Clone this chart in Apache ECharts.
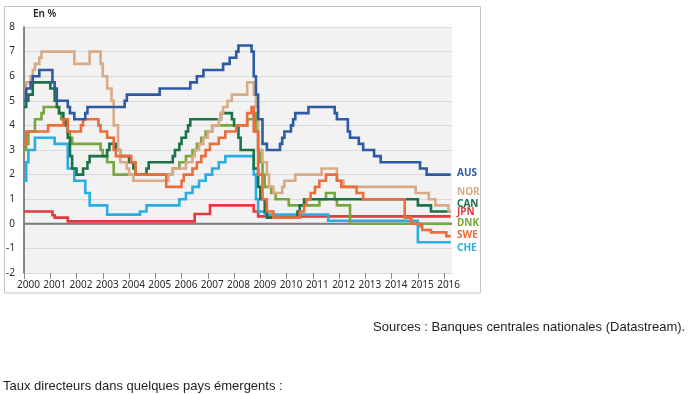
<!DOCTYPE html>
<html><head><meta charset="utf-8">
<script src="https://cdn.jsdelivr.net/npm/echarts@6/dist/echarts.min.js"></script>
<style>html,body{margin:0;padding:0;background:#fff;}#c{width:692px;height:394px;}</style>
</head><body><div id="c"></div>
<script>
// ---- data (change points: [month, rate in %]) ----
const yearTicks = [2000,2001,2002,2003,2004,2005,2006,2007,2008,2009,2010,2011,2012,2013,2014,2015,2016];
const yTicks = [-2,-1,0,1,2,3,4,5,6,7,8];
const seriesNames = ['AUS','NOR','CAN','JPN','DNK','SWE','CHE'];
const labelValues = [2.07,1.3,0.78,0.48,0.03,-0.47,-0.98];

const AUS = [['2000-01',5.0],['2000-02',5.5],['2000-04',5.75],['2000-05',6.0],['2000-08',6.25],['2001-02',5.75],['2001-03',5.5],['2001-04',5.0],['2001-09',4.75],['2001-10',4.5],['2001-12',4.25],['2002-05',4.5],['2002-06',4.75],['2003-11',5.0],['2003-12',5.25],['2005-03',5.5],['2006-05',5.75],['2006-08',6.0],['2006-11',6.25],['2007-08',6.5],['2007-11',6.75],['2008-02',7.0],['2008-03',7.25],['2008-09',7.0],['2008-10',6.0],['2008-11',5.25],['2008-12',4.25],['2009-02',3.25],['2009-04',3.0],['2009-10',3.25],['2009-11',3.5],['2009-12',3.75],['2010-03',4.0],['2010-04',4.25],['2010-05',4.5],['2010-11',4.75],['2011-11',4.5],['2011-12',4.25],['2012-05',3.75],['2012-06',3.5],['2012-10',3.25],['2012-12',3.0],['2013-05',2.75],['2013-08',2.5],['2015-02',2.25],['2015-05',2.0],['2016-04',2.0]];

const NOR = [['2000-01',5.5],['2000-02',5.75],['2000-04',6.0],['2000-05',6.25],['2000-06',6.5],['2000-08',6.75],['2000-09',7.0],['2001-12',6.5],['2002-07',7.0],['2002-12',6.5],['2003-01',6.0],['2003-03',5.5],['2003-05',5.0],['2003-06',4.0],['2003-08',3.0],['2003-09',2.5],['2003-12',2.25],['2004-01',2.0],['2004-03',1.75],['2005-07',2.0],['2005-09',2.25],['2006-03',2.5],['2006-06',2.75],['2006-07',3.0],['2006-09',3.25],['2006-11',3.5],['2007-01',3.75],['2007-03',4.0],['2007-06',4.25],['2007-07',4.5],['2007-08',4.75],['2007-10',5.0],['2007-12',5.25],['2008-07',5.75],['2008-10',5.25],['2008-11',4.75],['2008-12',3.0],['2009-02',2.5],['2009-04',2.0],['2009-05',1.5],['2009-07',1.25],['2009-11',1.5],['2009-12',1.75],['2010-05',2.0],['2011-05',2.25],['2011-12',1.75],['2012-03',1.5],['2014-12',1.25],['2015-06',1.0],['2015-09',0.75],['2016-03',0.5],['2016-04',0.5]];

const CAN = [['2000-01',4.75],['2000-02',5.0],['2000-03',5.25],['2000-05',5.75],['2001-01',5.5],['2001-03',5.0],['2001-04',4.75],['2001-05',4.5],['2001-07',4.25],['2001-08',4.0],['2001-09',3.5],['2001-10',2.75],['2001-11',2.25],['2002-01',2.0],['2002-04',2.25],['2002-06',2.5],['2002-07',2.75],['2003-03',3.0],['2003-04',3.25],['2003-07',3.0],['2003-09',2.75],['2004-01',2.5],['2004-03',2.25],['2004-04',2.0],['2004-09',2.25],['2004-10',2.5],['2005-09',2.75],['2005-10',3.0],['2005-12',3.25],['2006-01',3.5],['2006-03',3.75],['2006-04',4.0],['2006-05',4.25],['2007-07',4.5],['2007-12',4.25],['2008-01',4.0],['2008-03',3.5],['2008-04',3.0],['2008-10',2.25],['2008-12',1.5],['2009-01',1.0],['2009-03',0.5],['2009-04',0.25],['2010-06',0.5],['2010-07',0.75],['2010-09',1.0],['2015-01',0.75],['2015-07',0.5],['2016-04',0.5]];

const JPN = [['2000-01',0.5],['2001-02',0.35],['2001-03',0.25],['2001-09',0.1],['2006-07',0.4],['2007-02',0.75],['2008-10',0.5],['2008-12',0.3],['2016-04',0.3]];

const DNK = [['2000-01',3.0],['2000-02',3.25],['2000-03',3.75],['2000-06',4.25],['2000-09',4.5],['2000-10',4.75],['2001-05',4.5],['2001-06',4.25],['2001-09',3.75],['2001-10',3.5],['2001-11',3.25],['2002-12',3.0],['2003-01',2.75],['2003-03',2.5],['2003-06',2.0],['2005-09',2.25],['2005-12',2.5],['2006-03',2.75],['2006-06',3.0],['2006-08',3.25],['2006-10',3.5],['2006-12',3.75],['2007-03',4.0],['2008-07',4.25],['2008-10',4.5],['2008-11',3.75],['2008-12',3.0],['2009-01',2.5],['2009-02',2.0],['2009-03',1.5],['2009-06',1.25],['2009-08',1.0],['2010-02',0.75],['2011-04',1.0],['2011-07',1.25],['2011-11',1.0],['2011-12',0.75],['2012-06',0.0],['2016-04',0.0]];

const SWE = [['2000-01',3.25],['2000-02',3.75],['2000-12',4.0],['2001-07',4.25],['2001-09',3.75],['2002-03',4.0],['2002-04',4.25],['2002-11',4.0],['2002-12',3.75],['2003-03',3.5],['2003-06',3.0],['2003-07',2.75],['2004-02',2.5],['2004-04',2.0],['2005-06',1.5],['2006-01',1.75],['2006-02',2.0],['2006-06',2.25],['2006-08',2.5],['2006-10',2.75],['2006-12',3.0],['2007-02',3.25],['2007-06',3.5],['2007-09',3.75],['2008-02',4.0],['2008-07',4.5],['2008-09',4.75],['2008-10',3.75],['2008-12',2.0],['2009-02',1.0],['2009-04',0.5],['2009-07',0.25],['2010-07',0.5],['2010-09',0.75],['2010-10',1.0],['2010-12',1.25],['2011-02',1.5],['2011-04',1.75],['2011-07',2.0],['2011-12',1.75],['2012-02',1.5],['2012-09',1.25],['2012-12',1.0],['2014-07',0.25],['2014-10',0.0],['2015-02',-0.1],['2015-03',-0.25],['2015-07',-0.35],['2016-02',-0.5],['2016-04',-0.5]];

const CHE = [['2000-01',1.75],['2000-02',2.5],['2000-03',3.0],['2000-06',3.5],['2001-03',3.25],['2001-09',2.25],['2001-12',1.75],['2002-05',1.25],['2002-07',0.75],['2003-03',0.375],['2004-06',0.5],['2004-09',0.75],['2005-12',1.0],['2006-03',1.25],['2006-06',1.5],['2006-09',1.75],['2006-12',2.0],['2007-03',2.25],['2007-06',2.5],['2007-09',2.75],['2008-10',2.0],['2008-11',1.0],['2008-12',0.5],['2009-03',0.375],['2011-08',0.125],['2015-01',-0.75],['2016-04',-0.75]];

const xMin = 2000, xMax = 2016.3;
const zeroLine = [[xMin,0],[xMax,0]];

// ---- build ----
function ym(s){const p=s.split('-').map(Number);return p[0]+(p[1]-1)/12;}
function conv(arr){return arr.map(d=>[ym(d[0]),d[1]]);}
const dataMap = {AUS,NOR,CAN,JPN,DNK,SWE,CHE};
const colors = {AUS:'#2d5ba3',NOR:'#d8aa85',CAN:'#1c7148',JPN:'#e2393f',DNK:'#78a63e',SWE:'#ec6d3c',CHE:'#29ade2'};
const drawOrder = ['JPN','CHE','DNK','CAN','NOR','SWE','AUS'];

const chart = echarts.init(document.getElementById('c'), null, {renderer:'canvas'});
const series = [{
  type:'line', data: zeroLine, symbol:'none', silent:true, z:1,
  lineStyle:{color:'#7d7d7d', width:2}
}];
drawOrder.forEach(n=>{
  series.push({name:n,type:'line',step:'end',data:conv(dataMap[n]),symbol:'none',silent:true,z:2,
    lineStyle:{color:colors[n],width:2.6,join:'miter'}});
});

chart.setOption({
  animation:false,
  grid:{left:24,top:27,width:428,height:246,show:true,backgroundColor:'#f2f2f2',borderWidth:0,containLabel:false},
  xAxis:{type:'value',min:xMin,max:xMax,
    axisLine:{show:false,onZero:false},
    axisTick:{show:true,length:6,lineStyle:{color:'#8a8a8a',width:1},customValues:yearTicks},
    axisLabel:{customValues:yearTicks,formatter:v=>String(v),color:'#2a2a2a',fontSize:10,fontFamily:'Noto Sans',margin:7,padding:[0,0,0,9]},
    splitLine:{show:false}},
  yAxis:{type:'value',min:-2,max:8,interval:1,
    axisLine:{show:true,onZero:false,lineStyle:{color:'#6a6a6a',width:1.6}},
    axisTick:{show:false},
    axisLabel:{customValues:yTicks,color:'#2a2a2a',fontSize:10,fontFamily:'Noto Sans',margin:9},
    splitLine:{show:true,lineStyle:{color:'#dadada',width:1}}},
  series
});

const graphics = [
  {type:'rect',shape:{x:4.5,y:6.5,width:476,height:286.5},style:{fill:null,stroke:'#c4c4c4',lineWidth:1},silent:true,z:0},
  {type:'text',x:33,y:14,style:{text:'En %',font:'600 10px "Noto Sans"',fill:'#222',verticalAlign:'middle'},silent:true},
  {type:'text',x:373,y:327,style:{text:'Sources : Banques centrales nationales (Datastream).',font:'13px "Liberation Sans"',fill:'#1e1e1e',verticalAlign:'middle'},silent:true},
  {type:'text',x:3,y:386,style:{text:'Taux directeurs dans quelques pays émergents :',font:'13px "Liberation Sans"',fill:'#1e1e1e',verticalAlign:'middle'},silent:true}
];
seriesNames.forEach((n,i)=>{
  const py = chart.convertToPixel({yAxisIndex:0}, labelValues[i]);
  graphics.push({type:'text',x:457,y:py,style:{text:n,font:'bold 10px "Noto Sans"',fill:colors[n],verticalAlign:'middle'},silent:true});
});
chart.setOption({graphic:graphics});
</script></body></html>
